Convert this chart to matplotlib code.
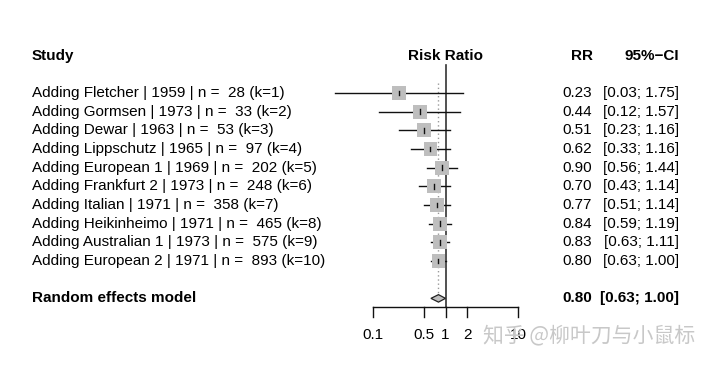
import matplotlib.pyplot as plt
import matplotlib.transforms as mtrans
import numpy as np

plt.rcParams['font.family'] = ['Liberation Sans', 'DejaVu Sans']

studies = ["Adding Fletcher | 1959 | n =  28 (k=1)",
           "Adding Gormsen | 1973 | n =  33 (k=2)",
           "Adding Dewar | 1963 | n =  53 (k=3)",
           "Adding Lippschutz | 1965 | n =  97 (k=4)",
           "Adding European 1 | 1969 | n =  202 (k=5)",
           "Adding Frankfurt 2 | 1973 | n =  248 (k=6)",
           "Adding Italian | 1971 | n =  358 (k=7)",
           "Adding Heikinheimo | 1971 | n =  465 (k=8)",
           "Adding Australian 1 | 1973 | n =  575 (k=9)",
           "Adding European 2 | 1971 | n =  893 (k=10)"]
rr = [0.23, 0.44, 0.51, 0.62, 0.90, 0.70, 0.77, 0.84, 0.83, 0.80]
lower = [0.03, 0.12, 0.23, 0.33, 0.56, 0.43, 0.51, 0.59, 0.63, 0.63]
upper = [1.75, 1.57, 1.16, 1.16, 1.44, 1.14, 1.14, 1.19, 1.11, 1.00]
pooled = 0.80
pooled_lo = 0.63
pooled_hi = 1.00
ticks = [0.1, 0.5, 1, 2, 10]
tick_labels = ["0.1", "0.5", "1", "2", "10"]

W, H = 720, 365
fig = plt.figure(figsize=(W / 100, H / 100), dpi=100)

# forest panel: 72.5 px per decade, x=1 at 445.5 px
ax_l, ax_r = 300, 540
ppd = 72.5
x1 = 445.5
ax = fig.add_axes([ax_l / W, 0, (ax_r - ax_l) / W, 1])
ax.set_xscale('log')
ax.set_xlim(10 ** ((ax_l - x1) / ppd), 10 ** ((ax_r - x1) / ppd))
# rows: row 1 at y=93 px, 18.67 px per row
rh = 18.67
ax.set_ylim(1 + (H - 93) / rh, 1 - 93 / rh)
ax.axis('off')

rows = np.arange(1, len(studies) + 1)
pool_row = 12
axis_row = 12.47

ax.plot([1, 1], [-0.5, axis_row], color='#333333', lw=1.2, zorder=1)
ax.plot([pooled, pooled], [0.46, pool_row - 0.2], color='#999999', lw=1,
        ls=(0, (1, 2)), zorder=1)

for r, e, lo, hi in zip(rows, rr, lower, upper):
    ax.plot([lo, hi], [r, r], color='#111111', lw=1.0, zorder=2)
ax.scatter(rr, rows, marker='s', s=100, color='#BEBEBE', edgecolors='none', zorder=3)
for r, e in zip(rows, rr):
    ax.plot([e, e], [r - 0.12, r + 0.12], color='#111111', lw=1.0, zorder=4)

dh = 0.2
ax.fill([pooled_lo, pooled, pooled_hi, pooled], [pool_row, pool_row - dh, pool_row, pool_row + dh],
        facecolor='#BEBEBE', edgecolor='#222222', lw=0.9, zorder=3)

ax.plot([ticks[0], ticks[-1]], [axis_row, axis_row], color='#111111', lw=1.0)
for t, lab in zip(ticks, tick_labels):
    ax.plot([t, t], [axis_row, 13.0], color='#111111', lw=1.0)
    ax.text(t, 13.96, lab, ha='center', va='center', fontsize=11)

tr = mtrans.blended_transform_factory(fig.transFigure, ax.transData)
fs = 11
fig.text(32 / W, -1, "Study", transform=tr, fontsize=fs, fontweight='bold', va='center')
fig.text(x1 / W, -1, "Risk Ratio", transform=tr, fontsize=fs, fontweight='bold', va='center', ha='center')
fig.text(593 / W, -1, "RR", transform=tr, fontsize=fs, fontweight='bold', va='center', ha='right')
fig.text(679 / W, -1, "95%\u2212CI", transform=tr, fontsize=fs, fontweight='bold', va='center', ha='right')

for r, s, e, lo, hi in zip(rows, studies, rr, lower, upper):
    fig.text(32 / W, r, s, transform=tr, fontsize=fs, va='center')
    fig.text(592 / W, r, f"{e:.2f}", transform=tr, fontsize=fs, va='center', ha='right')
    fig.text(679 / W, r, f"[{lo:.2f}; {hi:.2f}]", transform=tr, fontsize=fs, va='center', ha='right')

fig.text(32 / W, pool_row, "Random effects model", transform=tr, fontsize=fs, fontweight='bold', va='center')
fig.text(592 / W, pool_row, f"{pooled:.2f}", transform=tr, fontsize=fs, fontweight='bold', va='center', ha='right')
fig.text(679 / W, pool_row, f"[{pooled_lo:.2f}; {pooled_hi:.2f}]", transform=tr, fontsize=fs,
         fontweight='bold', va='center', ha='right')

fig.text(483 / W, 13.96, "知乎 @柳叶刀与小鼠标", transform=tr, fontsize=15, color='#c8c8c8',
         va='center', ha='left', family=['Noto Sans CJK SC', 'DejaVu Sans'])

fig.savefig("out.png", dpi=100)
